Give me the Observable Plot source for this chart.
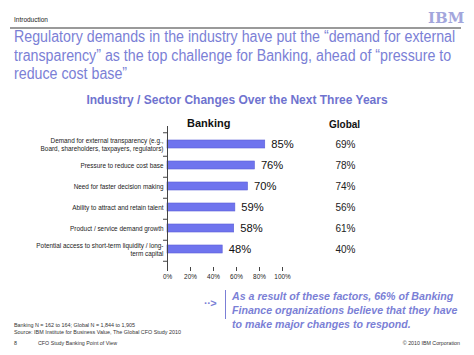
<!DOCTYPE html>
<html><head><meta charset="utf-8">
<script src="https://cdn.jsdelivr.net/npm/d3@7"></script>
<script src="https://cdn.jsdelivr.net/npm/@observablehq/plot@0.6"></script>
<style>
html,body{margin:0;padding:0;background:#fff;}
#page{position:relative;width:474px;height:355px;overflow:hidden;font-family:"Liberation Sans",Arial,sans-serif;}
.a{position:absolute;white-space:nowrap;}
#chart{position:absolute;left:0;top:110px;}
</style></head><body>
<div id="page">
  <div class="a" style="left:14px;top:16px;font-size:6.5px;color:#222;">Introduction</div>
  <div class="a" style="left:10px;top:27px;width:451px;height:1.5px;background:#9a9a9a;"></div>
  <div class="a" style="left:428px;top:9px;font-size:15px;font-weight:bold;color:#a3a6dc;font-family:'DejaVu Serif',serif;">IBM</div>
  <div class="a" style="left:14px;top:28px;font-size:15.6px;line-height:18.5px;color:#7b7fd6;transform:scaleX(0.912);transform-origin:0 0;">Regulatory demands in the industry have put the “demand for external<br>transparency” as the top challenge for Banking, ahead of “pressure to<br>reduce cost base”</div>
  <div class="a" style="left:0;width:474px;text-align:center;top:93px;font-size:12px;font-weight:bold;color:#6f73cf;">Industry / Sector Changes Over the Next Three Years</div>
  <div class="a" style="left:187px;top:117px;font-size:11px;font-weight:bold;color:#111;">Banking</div>
  <div class="a" style="left:329px;top:119px;font-size:10px;font-weight:bold;color:#111;">Global</div>
  <div id="chart"></div>
  <div class="a" style="left:204px;top:297px;font-size:11px;font-weight:bold;color:#7b7fd6;letter-spacing:-0.5px;">··&gt;</div>
  <div class="a" style="left:225px;top:290px;width:1.3px;height:29px;background:#7b7fd6;"></div>
  <div class="a" style="left:232px;top:289px;font-size:11.8px;line-height:14.2px;font-weight:bold;font-style:italic;color:#7b7fd6;transform:scaleX(0.9);transform-origin:0 0;">As a result of these factors, 66% of Banking<br>Finance organizations believe that they have<br>to make major changes to respond.</div>
  <div class="a" style="left:14px;top:322px;font-size:5.4px;line-height:7px;color:#333;">Banking N = 162 to 164; Global N = 1,844 to 1,905<br>Source: IBM Institute for Business Value, The Global CFO Study 2010</div>
  <div class="a" style="left:14px;top:340px;font-size:5.3px;color:#333;">8</div>
  <div class="a" style="left:38px;top:340px;font-size:5.3px;color:#333;">CFO Study Banking Point of View</div>
  <div class="a" style="right:14px;top:340px;font-size:5.3px;color:#333;">© 2010 IBM Corporation</div>
</div>
<script>
const categories = [
  "Demand for external transparency (e.g.,\nBoard, shareholders, taxpayers, regulators)",
  "Pressure to reduce cost base",
  "Need for faster decision making",
  "Ability to attract and retain talent",
  "Product / service demand growth",
  "Potential access to short-term liquidity / long-\nterm capital"
];
const banking = [85, 76, 70, 59, 58, 48];
const global = [69, 78, 74, 56, 61, 40];
const xTicks = [0, 20, 40, 60, 80, 100];

const data = categories.map((c, i) => ({cat: c, bank: banking[i], glob: global[i]}));
const step = 141 / 6;

const chart = Plot.plot({
  width: 474,
  height: 175,
  marginLeft: 167,
  marginRight: 192,
  marginTop: 16,
  marginBottom: 18,
  style: {fontFamily: "'Liberation Sans', Arial, sans-serif", background: "transparent", overflow: "visible"},
  x: {domain: [0, 100], axis: null, label: null},
  y: {domain: categories, padding: 0.6, axis: null, label: null},
  marks: [
    Plot.barX(data, {y: "cat", x: "bank", fill: "#6f74ee", stroke: "#5a5fd8", strokeWidth: 0.6}),
    Plot.text(data, {y: "cat", x: "bank", text: d => d.bank + "%", textAnchor: "start", dx: 6, fontSize: 11.2, fill: "#111"}),
    Plot.text(data, {y: "cat", text: d => d.glob + "%", frameAnchor: "right", textAnchor: "middle", dx: 63, fontSize: 10, fill: "#222"}),
    Plot.axisY({tickSize: 0, tickPadding: 4, fontSize: 6.4, lineHeight: 1.25, fill: "#222", color: "#222", label: null}),
    Plot.axisY({text: null, tickSize: 4, dy: step / 2, stroke: "#444", label: null}),
    Plot.axisY(categories.slice(0, 1), {text: null, tickSize: 4, dy: -step / 2, stroke: "#444", label: null}),
    Plot.ruleX([0], {stroke: "#444", strokeWidth: 1}),
    Plot.ruleY([0], {frameAnchor: "bottom", stroke: "#444", strokeWidth: 1}),
    Plot.axisX({ticks: xTicks, tickFormat: d => d + "%", tickSize: 4, tickPadding: 3, fontSize: 6.4, fill: "#222", stroke: "#444", label: null})
  ]
});
document.getElementById("chart").appendChild(chart);
</script>
</body></html>
